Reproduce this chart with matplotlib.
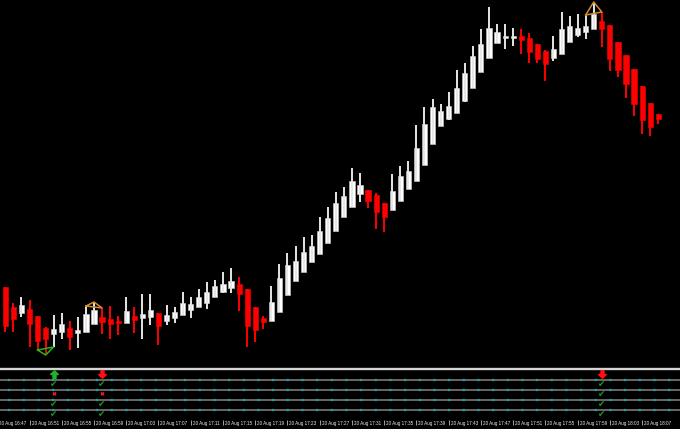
import matplotlib.pyplot as plt
import numpy as np

# one-minute bars starting 20 Aug 16:48, price in chart units (higher = up)
highs = [73, 57, 63, 60, 44, 33, 45, 47, 39, 43, 54, 58, 52, 54, 44, 63, 53, 66, 66, 47,
         55, 53, 68, 63, 71, 78, 80, 88, 92, 83, 71, 53, 44, 74, 96, 107, 114, 123, 125, 143,
         153, 168, 173, 192, 187, 170, 167, 157, 186, 194, 199, 235, 253, 261, 256, 268, 290, 297, 314, 331,
         353, 336, 336, 332, 331, 327, 316, 310, 324, 348, 344, 346, 345, 358, 348, 335, 318, 305, 291, 274,
         257, 246]
opens = [73, 53, 47, 51, 44, 32, 26, 28, 32, 27, 28, 36, 43, 41, 39, 37, 44, 42, 43, 47,
         39, 42, 45, 50, 53, 57, 63, 68, 72, 76, 71, 53, 42, 39, 48, 65, 79, 88, 98, 106,
         117, 129, 143, 153, 166, 170, 165, 157, 150, 159, 171, 179, 195, 216, 234, 241, 247, 259, 272, 288,
         302, 317, 322, 322, 324, 322, 316, 309, 302, 306, 318, 325, 328, 331, 339, 335, 318, 305, 291, 274,
         257, 246]
closes = [34, 41, 55, 36, 19, 21, 31, 36, 23, 30, 46, 50, 38, 36, 37, 49, 40, 46, 50, 34,
          45, 48, 57, 56, 63, 68, 74, 76, 79, 66, 34, 30, 38, 58, 82, 95, 99, 108, 114, 129,
          142, 157, 164, 179, 175, 159, 148, 143, 169, 184, 189, 212, 236, 253, 249, 254, 272, 287, 304, 316,
          332, 328, 324, 324, 320, 308, 301, 296, 311, 331, 334, 332, 334, 346, 331, 301, 290, 276, 256, 240,
          233, 241]
lows = [28, 28, 43, 13, 10, 5, 13, 21, 10, 12, 28, 36, 26, 21, 25, 37, 27, 21, 35, 15,
        35, 37, 45, 42, 53, 51, 63, 67, 67, 49, 13, 18, 31, 39, 48, 65, 79, 88, 98, 106,
        117, 129, 143, 153, 158, 152, 131, 128, 150, 159, 171, 179, 195, 216, 234, 240, 247, 258, 272, 288,
        302, 317, 311, 314, 306, 297, 297, 279, 299, 306, 318, 323, 321, 331, 313, 289, 283, 262, 244, 226,
        224, 236]

fractal_up = [11, 73]
fractal_down = [5]

# signal panel: bar index, arrow direction, four check rows (1 = tick, 0 = cross)
signal_bars = [6, 12, 74]
signal_dirs = [1, -1, -1]
signal_checks = [[1, 0, 1, 1],
                 [1, 0, 1, 1],
                 [1, 1, 1, 1]]

tick_labels = ["20 Aug 16:47", "20 Aug 16:51", "20 Aug 16:55", "20 Aug 16:59", "20 Aug 17:03",
               "20 Aug 17:07", "20 Aug 17:11", "20 Aug 17:15", "20 Aug 17:19", "20 Aug 17:23",
               "20 Aug 17:27", "20 Aug 17:31", "20 Aug 17:35", "20 Aug 17:39", "20 Aug 17:43",
               "20 Aug 17:47", "20 Aug 17:51", "20 Aug 17:55", "20 Aug 17:59", "20 Aug 18:03",
               "20 Aug 18:07"]

opens = np.array(opens)
closes = np.array(closes)
highs = np.array(highs)
lows = np.array(lows)
x = np.arange(len(opens))
up = closes >= opens

fig = plt.figure(figsize=(6.8, 4.29), dpi=100, facecolor='black')
ax = fig.add_axes([0, 63 / 429, 1, 366 / 429])
ax.set_facecolor('black')
ax.set_xlim(-0.66, 83.7)
ax.set_ylim(-6, 360)
ax.axis('off')

# wicks
ax.vlines(x[up], lows[up], highs[up], color='#e6e6e6', lw=1.4)
ax.vlines(x[~up], lows[~up], highs[~up], color='#ff0000', lw=1.4)
# bodies
body_lo = np.minimum(opens, closes)
body_h = np.maximum(np.abs(closes - opens), 1.5)
ax.bar(x[up], body_h[up], bottom=body_lo[up], width=0.64, color='white',
       edgecolor='#bdbdbd', lw=0.5)
ax.bar(x[~up], body_h[~up], bottom=body_lo[~up], width=0.64, color='#ff0000',
       edgecolor='#e00000', lw=0.5)

# fractal triangles
for i in fractal_up:
    ix = [i - 1, i, i + 1, i - 1]
    ax.plot(ix, highs[ix], color='#d08a2c', lw=1.1)
for i in fractal_down:
    ix = [i - 1, i, i + 1, i - 1]
    ax.plot(ix, lows[ix], color='#1fb81f', lw=1.1)

# signal panel (y in pixel rows)
ax2 = fig.add_axes([0, 0, 1, 63 / 429])
ax2.set_facecolor('black')
ax2.set_xlim(-0.66, 83.7)
ax2.set_ylim(429, 366)
ax2.axis('off')

ax2.axhline(368.6, color='#d4d4d4', lw=1.7)
for yl in [379.5, 389.5, 399.5, 409.5]:
    ax2.axhline(yl, color='#858585', lw=1.1)
    ax2.axhline(yl, color='#14a8a8', lw=1.6, linestyle=(3, (1, 5.6)))

arrow_up = [(0, 1), (-1, 0), (-0.4, 0), (-0.4, -1), (0.4, -1), (0.4, 0), (1, 0), (0, 1)]
arrow_dn = [(px, -py) for px, py in arrow_up]
for b, d, rows in zip(signal_bars, signal_dirs, signal_checks):
    if d > 0:
        ax2.plot(b, 374, marker=arrow_up, ms=5.5, color='#22b422', mec='#22b422')
    else:
        ax2.plot(b, 374, marker=arrow_dn, ms=5.5, color='#ff1010', mec='#ff1010')
    for r, ok in enumerate(rows):
        yr = 384.5 + 10 * r
        if ok:
            ax2.text(b, yr, '\u2714', color='#1e961e', fontsize=6.3,
                     ha='center', va='center', family='DejaVu Sans')
        else:
            ax2.text(b, yr, '\u2716', color='#ff2020', fontsize=4.3,
                     ha='center', va='center', family='DejaVu Sans')

# time axis labels every 4 bars, first label at 16:47 (one bar before the first candle)
for k, lab in enumerate(tick_labels):
    tx = -1 + 4 * k
    ax2.vlines(tx, 420, 425, color='#bdbdbd', lw=0.6)
    ax2.text(tx + 0.25, 424, lab, color='#ececec', fontsize=3.35,
             ha='left', va='center', family='Liberation Sans')

fig.savefig('out.png', dpi=100, facecolor='black')
